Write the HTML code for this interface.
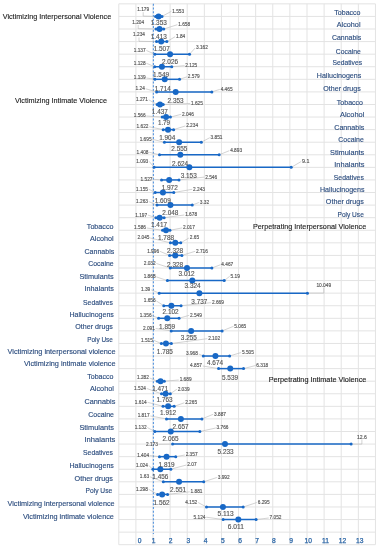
<!DOCTYPE html>
<html><head><meta charset="utf-8"><title>Forest plot</title>
<style>html,body{margin:0;padding:0;background:#fff}svg{display:block}text{font-family:"Liberation Sans",sans-serif}</style></head><body>
<svg width="380" height="550" viewBox="0 0 380 550">
<rect width="380" height="550" fill="#fff"/>
<g stroke="#e3e3e3" stroke-width="1" fill="none">
<line x1="118.79" y1="3.85" x2="375.44" y2="3.85"/>
<line x1="118.79" y1="16.43" x2="375.44" y2="16.43"/>
<line x1="118.79" y1="29.01" x2="375.44" y2="29.01"/>
<line x1="118.79" y1="41.58" x2="375.44" y2="41.58"/>
<line x1="118.79" y1="54.16" x2="375.44" y2="54.16"/>
<line x1="118.79" y1="66.74" x2="375.44" y2="66.74"/>
<line x1="118.79" y1="79.32" x2="375.44" y2="79.32"/>
<line x1="118.79" y1="91.90" x2="375.44" y2="91.90"/>
<line x1="118.79" y1="104.47" x2="375.44" y2="104.47"/>
<line x1="118.79" y1="117.05" x2="375.44" y2="117.05"/>
<line x1="118.79" y1="129.63" x2="375.44" y2="129.63"/>
<line x1="118.79" y1="142.21" x2="375.44" y2="142.21"/>
<line x1="118.79" y1="154.79" x2="375.44" y2="154.79"/>
<line x1="118.79" y1="167.36" x2="375.44" y2="167.36"/>
<line x1="118.79" y1="179.94" x2="375.44" y2="179.94"/>
<line x1="118.79" y1="192.52" x2="375.44" y2="192.52"/>
<line x1="118.79" y1="205.10" x2="375.44" y2="205.10"/>
<line x1="118.79" y1="217.68" x2="375.44" y2="217.68"/>
<line x1="118.79" y1="230.25" x2="375.44" y2="230.25"/>
<line x1="118.79" y1="242.83" x2="375.44" y2="242.83"/>
<line x1="118.79" y1="255.41" x2="375.44" y2="255.41"/>
<line x1="118.79" y1="267.99" x2="375.44" y2="267.99"/>
<line x1="118.79" y1="280.57" x2="375.44" y2="280.57"/>
<line x1="118.79" y1="293.14" x2="375.44" y2="293.14"/>
<line x1="118.79" y1="305.72" x2="375.44" y2="305.72"/>
<line x1="118.79" y1="318.30" x2="375.44" y2="318.30"/>
<line x1="118.79" y1="330.88" x2="375.44" y2="330.88"/>
<line x1="118.79" y1="343.46" x2="375.44" y2="343.46"/>
<line x1="118.79" y1="356.03" x2="375.44" y2="356.03"/>
<line x1="118.79" y1="368.61" x2="375.44" y2="368.61"/>
<line x1="118.79" y1="381.19" x2="375.44" y2="381.19"/>
<line x1="118.79" y1="393.77" x2="375.44" y2="393.77"/>
<line x1="118.79" y1="406.35" x2="375.44" y2="406.35"/>
<line x1="118.79" y1="418.92" x2="375.44" y2="418.92"/>
<line x1="118.79" y1="431.50" x2="375.44" y2="431.50"/>
<line x1="118.79" y1="444.08" x2="375.44" y2="444.08"/>
<line x1="118.79" y1="456.66" x2="375.44" y2="456.66"/>
<line x1="118.79" y1="469.24" x2="375.44" y2="469.24"/>
<line x1="118.79" y1="481.81" x2="375.44" y2="481.81"/>
<line x1="118.79" y1="494.39" x2="375.44" y2="494.39"/>
<line x1="118.79" y1="506.97" x2="375.44" y2="506.97"/>
<line x1="118.79" y1="519.55" x2="375.44" y2="519.55"/>
<line x1="118.79" y1="532.13" x2="375.44" y2="532.13"/>
<line x1="118.79" y1="544.70" x2="375.44" y2="544.70"/>
<line x1="118.79" y1="3.85" x2="118.79" y2="544.70"/>
<line x1="135.90" y1="3.85" x2="135.90" y2="544.70"/>
<line x1="153.01" y1="3.85" x2="153.01" y2="544.70"/>
<line x1="170.12" y1="3.85" x2="170.12" y2="544.70"/>
<line x1="187.23" y1="3.85" x2="187.23" y2="544.70"/>
<line x1="204.34" y1="3.85" x2="204.34" y2="544.70"/>
<line x1="221.45" y1="3.85" x2="221.45" y2="544.70"/>
<line x1="238.56" y1="3.85" x2="238.56" y2="544.70"/>
<line x1="255.67" y1="3.85" x2="255.67" y2="544.70"/>
<line x1="272.78" y1="3.85" x2="272.78" y2="544.70"/>
<line x1="289.89" y1="3.85" x2="289.89" y2="544.70"/>
<line x1="307.00" y1="3.85" x2="307.00" y2="544.70"/>
<line x1="324.11" y1="3.85" x2="324.11" y2="544.70"/>
<line x1="341.22" y1="3.85" x2="341.22" y2="544.70"/>
<line x1="358.33" y1="3.85" x2="358.33" y2="544.70"/>
<line x1="375.44" y1="3.85" x2="375.44" y2="544.70"/>
</g>
<line x1="153.4" y1="3.85" x2="153.4" y2="534" stroke="#5596e0" stroke-width="1.1" stroke-dasharray="2 1.7"/>
<g stroke="#b5b5b5" stroke-width="0.6" fill="none">
<polyline points="143.2,12.2 143.2,16.1 155.6,16.4"/>
<line x1="171.4" y1="11.3" x2="162.0" y2="16.4"/>
<polyline points="138.2,25.0 138.2,28.7 156.0,29.0"/>
<line x1="177.4" y1="24.7" x2="163.8" y2="29.0"/>
<polyline points="139.0,37.5 139.0,41.3 156.5,41.6"/>
<line x1="175.1" y1="36.7" x2="166.9" y2="41.6"/>
<line x1="146.4" y1="50.5" x2="154.9" y2="54.2"/>
<line x1="195.2" y1="48.0" x2="189.5" y2="54.2"/>
<line x1="146.4" y1="63.3" x2="154.7" y2="66.7"/>
<line x1="184.6" y1="65.7" x2="171.8" y2="66.7"/>
<line x1="146.4" y1="78.0" x2="154.9" y2="79.3"/>
<line x1="187.1" y1="76.8" x2="179.6" y2="79.3"/>
<line x1="145.7" y1="88.8" x2="156.6" y2="91.9"/>
<line x1="219.8" y1="89.4" x2="211.8" y2="91.9"/>
<line x1="148.7" y1="99.8" x2="157.2" y2="104.5"/>
<line x1="190.2" y1="103.5" x2="163.2" y2="104.5"/>
<line x1="146.4" y1="116.0" x2="162.2" y2="117.1"/>
<line x1="181.2" y1="114.3" x2="170.4" y2="117.1"/>
<line x1="149.2" y1="126.8" x2="163.2" y2="129.6"/>
<line x1="185.3" y1="126.0" x2="173.6" y2="129.6"/>
<line x1="152.3" y1="139.3" x2="164.4" y2="142.2"/>
<line x1="209.8" y1="137.7" x2="201.3" y2="142.2"/>
<line x1="149.2" y1="152.3" x2="159.5" y2="154.8"/>
<line x1="229.3" y1="150.7" x2="219.2" y2="154.8"/>
<line x1="149.1" y1="161.3" x2="154.1" y2="167.4"/>
<line x1="301.2" y1="161.5" x2="291.2" y2="167.4"/>
<line x1="153.2" y1="179.3" x2="161.5" y2="179.9"/>
<line x1="204.4" y1="177.1" x2="179.0" y2="179.9"/>
<line x1="148.8" y1="189.3" x2="155.2" y2="192.5"/>
<line x1="192.2" y1="189.3" x2="173.8" y2="192.5"/>
<line x1="148.8" y1="201.6" x2="157.0" y2="205.1"/>
<line x1="198.9" y1="202.5" x2="192.2" y2="205.1"/>
<line x1="147.9" y1="215.1" x2="155.9" y2="217.7"/>
<line x1="184.3" y1="215.0" x2="164.1" y2="217.7"/>
<line x1="146.8" y1="228.0" x2="162.6" y2="230.3"/>
<line x1="182.2" y1="227.9" x2="169.9" y2="230.3"/>
<line x1="150.2" y1="238.0" x2="170.4" y2="242.8"/>
<line x1="188.9" y1="238.0" x2="180.8" y2="242.8"/>
<line x1="159.8" y1="251.3" x2="169.6" y2="255.4"/>
<line x1="195.2" y1="251.3" x2="181.9" y2="255.4"/>
<line x1="156.4" y1="263.5" x2="170.2" y2="268.0"/>
<line x1="220.6" y1="264.7" x2="211.9" y2="268.0"/>
<line x1="156.3" y1="276.9" x2="167.4" y2="280.6"/>
<line x1="229.7" y1="276.3" x2="224.3" y2="280.6"/>
<line x1="151.1" y1="289.8" x2="159.2" y2="293.1"/>
<polyline points="323.8,287.8 323.8,293.1 307.4,293.1"/>
<line x1="156.4" y1="301.0" x2="163.8" y2="305.7"/>
<line x1="211.2" y1="302.7" x2="181.1" y2="305.7"/>
<line x1="152.3" y1="315.5" x2="158.6" y2="318.3"/>
<line x1="189.2" y1="315.3" x2="179.0" y2="318.3"/>
<line x1="155.7" y1="328.5" x2="171.2" y2="330.9"/>
<line x1="233.6" y1="326.3" x2="222.1" y2="330.9"/>
<line x1="153.7" y1="340.3" x2="161.3" y2="343.5"/>
<line x1="207.3" y1="338.7" x2="171.4" y2="343.5"/>
<line x1="198.7" y1="354.0" x2="203.3" y2="356.0"/>
<line x1="241.2" y1="352.5" x2="229.6" y2="356.0"/>
<line x1="202.8" y1="366.0" x2="218.6" y2="368.6"/>
<line x1="255.6" y1="365.5" x2="243.6" y2="368.6"/>
<line x1="149.7" y1="378.0" x2="157.3" y2="381.2"/>
<line x1="178.8" y1="380.0" x2="164.3" y2="381.2"/>
<line x1="146.8" y1="388.5" x2="161.5" y2="393.8"/>
<line x1="176.8" y1="389.3" x2="170.3" y2="393.8"/>
<line x1="147.6" y1="402.3" x2="163.0" y2="406.3"/>
<line x1="184.3" y1="402.8" x2="174.2" y2="406.3"/>
<line x1="150.3" y1="416.0" x2="166.5" y2="418.9"/>
<line x1="213.2" y1="414.3" x2="201.9" y2="418.9"/>
<line x1="147.3" y1="427.5" x2="154.8" y2="431.5"/>
<line x1="215.8" y1="428.0" x2="199.9" y2="431.5"/>
<line x1="158.7" y1="444.3" x2="172.6" y2="444.1"/>
<polyline points="361.9,439.4 361.9,444.1 351.1,444.1"/>
<line x1="149.8" y1="455.5" x2="159.4" y2="456.7"/>
<line x1="184.8" y1="455.0" x2="175.8" y2="456.7"/>
<line x1="148.7" y1="465.5" x2="152.9" y2="469.2"/>
<line x1="186.4" y1="465.0" x2="170.8" y2="469.2"/>
<line x1="149.9" y1="476.8" x2="163.3" y2="481.8"/>
<line x1="216.9" y1="477.5" x2="203.7" y2="481.8"/>
<line x1="148.7" y1="489.3" x2="157.6" y2="494.4"/>
<line x1="189.8" y1="491.8" x2="167.6" y2="494.4"/>
<line x1="198.1" y1="502.5" x2="206.5" y2="507.0"/>
<line x1="256.9" y1="502.5" x2="243.2" y2="507.0"/>
<line x1="206.2" y1="517.2" x2="223.1" y2="519.5"/>
<line x1="268.8" y1="518.0" x2="256.1" y2="519.5"/>
</g>
<g stroke="#1868c6" stroke-width="1.5" fill="#1868c6">
<line x1="155.58" y1="16.43" x2="161.99" y2="16.43"/>
<line x1="156.01" y1="29.01" x2="163.78" y2="29.01"/>
<line x1="156.53" y1="41.58" x2="166.90" y2="41.58"/>
<line x1="154.87" y1="54.16" x2="189.53" y2="54.16"/>
<line x1="154.71" y1="66.74" x2="171.78" y2="66.74"/>
<line x1="154.90" y1="79.32" x2="179.55" y2="79.32"/>
<line x1="156.63" y1="91.90" x2="211.84" y2="91.90"/>
<line x1="157.16" y1="104.47" x2="163.22" y2="104.47"/>
<line x1="162.21" y1="117.05" x2="170.43" y2="117.05"/>
<line x1="163.17" y1="129.63" x2="173.65" y2="129.63"/>
<line x1="164.42" y1="142.21" x2="201.33" y2="142.21"/>
<line x1="159.50" y1="154.79" x2="219.17" y2="154.79"/>
<line x1="154.11" y1="167.36" x2="291.19" y2="167.36"/>
<line x1="161.54" y1="179.94" x2="178.99" y2="179.94"/>
<line x1="155.17" y1="192.52" x2="173.80" y2="192.52"/>
<line x1="157.02" y1="205.10" x2="192.24" y2="205.10"/>
<line x1="155.89" y1="217.68" x2="164.13" y2="217.68"/>
<line x1="162.55" y1="230.25" x2="169.93" y2="230.25"/>
<line x1="170.41" y1="242.83" x2="180.77" y2="242.83"/>
<line x1="169.57" y1="255.41" x2="181.90" y2="255.41"/>
<line x1="170.19" y1="267.99" x2="211.88" y2="267.99"/>
<line x1="167.38" y1="280.57" x2="224.25" y2="280.57"/>
<line x1="159.20" y1="293.14" x2="307.44" y2="293.14"/>
<line x1="163.75" y1="305.72" x2="181.09" y2="305.72"/>
<line x1="158.61" y1="318.30" x2="179.04" y2="318.30"/>
<line x1="171.20" y1="330.88" x2="222.11" y2="330.88"/>
<line x1="161.34" y1="343.46" x2="171.39" y2="343.46"/>
<line x1="203.33" y1="356.03" x2="229.65" y2="356.03"/>
<line x1="218.55" y1="368.61" x2="243.56" y2="368.61"/>
<line x1="157.35" y1="381.19" x2="164.32" y2="381.19"/>
<line x1="161.49" y1="393.77" x2="170.31" y2="393.77"/>
<line x1="163.03" y1="406.35" x2="174.18" y2="406.35"/>
<line x1="166.51" y1="418.92" x2="201.95" y2="418.92"/>
<line x1="154.78" y1="431.50" x2="199.87" y2="431.50"/>
<line x1="172.60" y1="444.08" x2="351.11" y2="444.08"/>
<line x1="159.44" y1="456.66" x2="175.75" y2="456.66"/>
<line x1="152.93" y1="469.24" x2="170.84" y2="469.24"/>
<line x1="163.31" y1="481.81" x2="203.74" y2="481.81"/>
<line x1="157.62" y1="494.39" x2="167.60" y2="494.39"/>
<line x1="206.48" y1="506.97" x2="243.17" y2="506.97"/>
<line x1="223.12" y1="519.55" x2="256.13" y2="519.55"/>
</g>
<g fill="#1868c6">
<circle cx="155.58" cy="16.43" r="1.5"/><circle cx="161.99" cy="16.43" r="1.5"/><circle cx="158.56" cy="16.43" r="3"/>
<circle cx="156.01" cy="29.01" r="1.5"/><circle cx="163.78" cy="29.01" r="1.5"/><circle cx="159.59" cy="29.01" r="3"/>
<circle cx="156.53" cy="41.58" r="1.5"/><circle cx="166.90" cy="41.58" r="1.5"/><circle cx="161.20" cy="41.58" r="3"/>
<circle cx="154.87" cy="54.16" r="1.5"/><circle cx="189.53" cy="54.16" r="1.5"/><circle cx="170.09" cy="54.16" r="3"/>
<circle cx="154.71" cy="66.74" r="1.5"/><circle cx="171.78" cy="66.74" r="1.5"/><circle cx="161.92" cy="66.74" r="3"/>
<circle cx="154.90" cy="79.32" r="1.5"/><circle cx="179.55" cy="79.32" r="1.5"/><circle cx="164.74" cy="79.32" r="3"/>
<circle cx="156.63" cy="91.90" r="1.5"/><circle cx="211.84" cy="91.90" r="1.5"/><circle cx="175.68" cy="91.90" r="3"/>
<circle cx="157.16" cy="104.47" r="1.5"/><circle cx="163.22" cy="104.47" r="1.5"/><circle cx="160.00" cy="104.47" r="3"/>
<circle cx="162.21" cy="117.05" r="1.5"/><circle cx="170.43" cy="117.05" r="1.5"/><circle cx="166.04" cy="117.05" r="3"/>
<circle cx="163.17" cy="129.63" r="1.5"/><circle cx="173.65" cy="129.63" r="1.5"/><circle cx="168.00" cy="129.63" r="3"/>
<circle cx="164.42" cy="142.21" r="1.5"/><circle cx="201.33" cy="142.21" r="1.5"/><circle cx="179.14" cy="142.21" r="3"/>
<circle cx="159.50" cy="154.79" r="1.5"/><circle cx="219.17" cy="154.79" r="1.5"/><circle cx="180.32" cy="154.79" r="3"/>
<circle cx="154.11" cy="167.36" r="1.5"/><circle cx="291.19" cy="167.36" r="1.5"/><circle cx="189.38" cy="167.36" r="3"/>
<circle cx="161.54" cy="179.94" r="1.5"/><circle cx="178.99" cy="179.94" r="1.5"/><circle cx="169.16" cy="179.94" r="3"/>
<circle cx="155.17" cy="192.52" r="1.5"/><circle cx="173.80" cy="192.52" r="1.5"/><circle cx="162.95" cy="192.52" r="3"/>
<circle cx="157.02" cy="205.10" r="1.5"/><circle cx="192.24" cy="205.10" r="1.5"/><circle cx="170.46" cy="205.10" r="3"/>
<circle cx="155.89" cy="217.68" r="1.5"/><circle cx="164.13" cy="217.68" r="1.5"/><circle cx="159.66" cy="217.68" r="3"/>
<circle cx="162.55" cy="230.25" r="1.5"/><circle cx="169.93" cy="230.25" r="1.5"/><circle cx="166.01" cy="230.25" r="3"/>
<circle cx="170.41" cy="242.83" r="1.5"/><circle cx="180.77" cy="242.83" r="1.5"/><circle cx="175.26" cy="242.83" r="3"/>
<circle cx="169.57" cy="255.41" r="1.5"/><circle cx="181.90" cy="255.41" r="1.5"/><circle cx="175.26" cy="255.41" r="3"/>
<circle cx="170.19" cy="267.99" r="1.5"/><circle cx="211.88" cy="267.99" r="1.5"/><circle cx="186.97" cy="267.99" r="3"/>
<circle cx="167.38" cy="280.57" r="1.5"/><circle cx="224.25" cy="280.57" r="1.5"/><circle cx="192.31" cy="280.57" r="3"/>
<circle cx="159.20" cy="293.14" r="1.5"/><circle cx="307.44" cy="293.14" r="1.5"/><circle cx="199.38" cy="293.14" r="3"/>
<circle cx="163.75" cy="305.72" r="1.5"/><circle cx="181.09" cy="305.72" r="1.5"/><circle cx="171.39" cy="305.72" r="3"/>
<circle cx="158.61" cy="318.30" r="1.5"/><circle cx="179.04" cy="318.30" r="1.5"/><circle cx="167.23" cy="318.30" r="3"/>
<circle cx="171.20" cy="330.88" r="1.5"/><circle cx="222.11" cy="330.88" r="1.5"/><circle cx="191.13" cy="330.88" r="3"/>
<circle cx="161.34" cy="343.46" r="1.5"/><circle cx="171.39" cy="343.46" r="1.5"/><circle cx="165.96" cy="343.46" r="3"/>
<circle cx="203.33" cy="356.03" r="1.5"/><circle cx="229.65" cy="356.03" r="1.5"/><circle cx="215.42" cy="356.03" r="3"/>
<circle cx="218.55" cy="368.61" r="1.5"/><circle cx="243.56" cy="368.61" r="1.5"/><circle cx="230.23" cy="368.61" r="3"/>
<circle cx="157.35" cy="381.19" r="1.5"/><circle cx="164.32" cy="381.19" r="1.5"/><circle cx="160.58" cy="381.19" r="3"/>
<circle cx="161.49" cy="393.77" r="1.5"/><circle cx="170.31" cy="393.77" r="1.5"/><circle cx="165.58" cy="393.77" r="3"/>
<circle cx="163.03" cy="406.35" r="1.5"/><circle cx="174.18" cy="406.35" r="1.5"/><circle cx="168.13" cy="406.35" r="3"/>
<circle cx="166.51" cy="418.92" r="1.5"/><circle cx="201.95" cy="418.92" r="1.5"/><circle cx="180.89" cy="418.92" r="3"/>
<circle cx="154.78" cy="431.50" r="1.5"/><circle cx="199.87" cy="431.50" r="1.5"/><circle cx="170.75" cy="431.50" r="3"/>
<circle cx="172.60" cy="444.08" r="1.5"/><circle cx="351.11" cy="444.08" r="1.5"/><circle cx="224.99" cy="444.08" r="3"/>
<circle cx="159.44" cy="456.66" r="1.5"/><circle cx="175.75" cy="456.66" r="1.5"/><circle cx="166.54" cy="456.66" r="3"/>
<circle cx="152.93" cy="469.24" r="1.5"/><circle cx="170.84" cy="469.24" r="1.5"/><circle cx="160.33" cy="469.24" r="3"/>
<circle cx="163.31" cy="481.81" r="1.5"/><circle cx="203.74" cy="481.81" r="1.5"/><circle cx="179.07" cy="481.81" r="3"/>
<circle cx="157.62" cy="494.39" r="1.5"/><circle cx="167.60" cy="494.39" r="1.5"/><circle cx="162.14" cy="494.39" r="3"/>
<circle cx="206.48" cy="506.97" r="1.5"/><circle cx="243.17" cy="506.97" r="1.5"/><circle cx="222.93" cy="506.97" r="3"/>
<circle cx="223.12" cy="519.55" r="1.5"/><circle cx="256.13" cy="519.55" r="1.5"/><circle cx="238.31" cy="519.55" r="3"/>
</g>
<g font-size="5.5" fill="#555555" stroke="#555555" stroke-width="0.15">
<text x="137.25" y="11.17" textLength="11.90" lengthAdjust="spacingAndGlyphs">1.179</text>
<text x="172.25" y="12.77" textLength="11.90" lengthAdjust="spacingAndGlyphs">1.553</text>
<text x="132.25" y="23.97" textLength="11.90" lengthAdjust="spacingAndGlyphs">1.204</text>
<text x="178.25" y="26.17" textLength="11.90" lengthAdjust="spacingAndGlyphs">1.658</text>
<text x="133.05" y="36.47" textLength="11.90" lengthAdjust="spacingAndGlyphs">1.234</text>
<text x="175.95" y="38.17" textLength="9.30" lengthAdjust="spacingAndGlyphs">1.84</text>
<text x="133.75" y="51.97" textLength="11.90" lengthAdjust="spacingAndGlyphs">1.137</text>
<text x="195.95" y="49.47" textLength="11.90" lengthAdjust="spacingAndGlyphs">3.162</text>
<text x="133.75" y="64.77" textLength="11.90" lengthAdjust="spacingAndGlyphs">1.128</text>
<text x="185.35" y="67.17" textLength="11.90" lengthAdjust="spacingAndGlyphs">2.125</text>
<text x="133.75" y="79.47" textLength="11.90" lengthAdjust="spacingAndGlyphs">1.139</text>
<text x="187.85" y="78.27" textLength="11.90" lengthAdjust="spacingAndGlyphs">2.579</text>
<text x="135.55" y="90.27" textLength="9.30" lengthAdjust="spacingAndGlyphs">1.24</text>
<text x="220.65" y="90.87" textLength="11.90" lengthAdjust="spacingAndGlyphs">4.465</text>
<text x="135.95" y="101.27" textLength="11.90" lengthAdjust="spacingAndGlyphs">1.271</text>
<text x="190.95" y="104.97" textLength="11.90" lengthAdjust="spacingAndGlyphs">1.625</text>
<text x="133.75" y="117.47" textLength="11.90" lengthAdjust="spacingAndGlyphs">1.566</text>
<text x="181.95" y="115.77" textLength="11.90" lengthAdjust="spacingAndGlyphs">2.046</text>
<text x="136.55" y="128.27" textLength="11.90" lengthAdjust="spacingAndGlyphs">1.622</text>
<text x="186.15" y="127.47" textLength="11.90" lengthAdjust="spacingAndGlyphs">2.234</text>
<text x="139.65" y="140.77" textLength="11.90" lengthAdjust="spacingAndGlyphs">1.695</text>
<text x="210.55" y="139.17" textLength="11.90" lengthAdjust="spacingAndGlyphs">3.851</text>
<text x="136.55" y="153.77" textLength="11.90" lengthAdjust="spacingAndGlyphs">1.408</text>
<text x="230.15" y="152.17" textLength="11.90" lengthAdjust="spacingAndGlyphs">4.893</text>
<text x="136.35" y="162.77" textLength="11.90" lengthAdjust="spacingAndGlyphs">1.093</text>
<text x="302.00" y="162.97" textLength="7.40" lengthAdjust="spacingAndGlyphs">9.1</text>
<text x="140.55" y="180.77" textLength="11.90" lengthAdjust="spacingAndGlyphs">1.527</text>
<text x="205.25" y="178.57" textLength="11.90" lengthAdjust="spacingAndGlyphs">2.546</text>
<text x="136.05" y="190.77" textLength="11.90" lengthAdjust="spacingAndGlyphs">1.155</text>
<text x="193.05" y="190.77" textLength="11.90" lengthAdjust="spacingAndGlyphs">2.243</text>
<text x="136.05" y="203.07" textLength="11.90" lengthAdjust="spacingAndGlyphs">1.263</text>
<text x="199.75" y="203.97" textLength="9.30" lengthAdjust="spacingAndGlyphs">3.32</text>
<text x="135.25" y="216.57" textLength="11.90" lengthAdjust="spacingAndGlyphs">1.197</text>
<text x="185.15" y="216.47" textLength="11.90" lengthAdjust="spacingAndGlyphs">1.678</text>
<text x="134.05" y="229.47" textLength="11.90" lengthAdjust="spacingAndGlyphs">1.586</text>
<text x="182.95" y="229.37" textLength="11.90" lengthAdjust="spacingAndGlyphs">2.017</text>
<text x="137.55" y="239.47" textLength="11.90" lengthAdjust="spacingAndGlyphs">2.045</text>
<text x="189.75" y="239.47" textLength="9.30" lengthAdjust="spacingAndGlyphs">2.65</text>
<text x="147.15" y="252.77" textLength="11.90" lengthAdjust="spacingAndGlyphs">1.996</text>
<text x="195.95" y="252.77" textLength="11.90" lengthAdjust="spacingAndGlyphs">2.716</text>
<text x="143.75" y="264.97" textLength="11.90" lengthAdjust="spacingAndGlyphs">2.032</text>
<text x="221.35" y="266.17" textLength="11.90" lengthAdjust="spacingAndGlyphs">4.467</text>
<text x="143.65" y="278.37" textLength="11.90" lengthAdjust="spacingAndGlyphs">1.868</text>
<text x="230.55" y="277.77" textLength="9.30" lengthAdjust="spacingAndGlyphs">5.19</text>
<text x="140.95" y="291.27" textLength="9.30" lengthAdjust="spacingAndGlyphs">1.39</text>
<text x="316.40" y="287.17" textLength="14.80" lengthAdjust="spacingAndGlyphs">10.049</text>
<text x="143.75" y="302.47" textLength="11.90" lengthAdjust="spacingAndGlyphs">1.656</text>
<text x="211.95" y="304.17" textLength="11.90" lengthAdjust="spacingAndGlyphs">2.669</text>
<text x="139.65" y="316.97" textLength="11.90" lengthAdjust="spacingAndGlyphs">1.356</text>
<text x="189.95" y="316.77" textLength="11.90" lengthAdjust="spacingAndGlyphs">2.549</text>
<text x="142.95" y="329.97" textLength="11.90" lengthAdjust="spacingAndGlyphs">2.091</text>
<text x="234.35" y="327.77" textLength="11.90" lengthAdjust="spacingAndGlyphs">5.065</text>
<text x="140.95" y="341.77" textLength="11.90" lengthAdjust="spacingAndGlyphs">1.515</text>
<text x="208.15" y="340.17" textLength="11.90" lengthAdjust="spacingAndGlyphs">2.102</text>
<text x="185.95" y="355.47" textLength="11.90" lengthAdjust="spacingAndGlyphs">3.968</text>
<text x="241.95" y="353.97" textLength="11.90" lengthAdjust="spacingAndGlyphs">5.505</text>
<text x="190.05" y="367.47" textLength="11.90" lengthAdjust="spacingAndGlyphs">4.857</text>
<text x="256.35" y="366.97" textLength="11.90" lengthAdjust="spacingAndGlyphs">6.318</text>
<text x="136.95" y="379.47" textLength="11.90" lengthAdjust="spacingAndGlyphs">1.282</text>
<text x="179.65" y="381.47" textLength="11.90" lengthAdjust="spacingAndGlyphs">1.689</text>
<text x="134.05" y="389.97" textLength="11.90" lengthAdjust="spacingAndGlyphs">1.524</text>
<text x="177.65" y="390.77" textLength="11.90" lengthAdjust="spacingAndGlyphs">2.039</text>
<text x="134.85" y="403.77" textLength="11.90" lengthAdjust="spacingAndGlyphs">1.614</text>
<text x="185.15" y="404.27" textLength="11.90" lengthAdjust="spacingAndGlyphs">2.265</text>
<text x="137.65" y="417.47" textLength="11.90" lengthAdjust="spacingAndGlyphs">1.817</text>
<text x="214.05" y="415.77" textLength="11.90" lengthAdjust="spacingAndGlyphs">3.887</text>
<text x="134.65" y="428.97" textLength="11.90" lengthAdjust="spacingAndGlyphs">1.132</text>
<text x="216.55" y="429.47" textLength="11.90" lengthAdjust="spacingAndGlyphs">3.766</text>
<text x="145.95" y="445.77" textLength="11.90" lengthAdjust="spacingAndGlyphs">2.173</text>
<text x="356.95" y="438.77" textLength="9.90" lengthAdjust="spacingAndGlyphs">12.6</text>
<text x="137.15" y="456.97" textLength="11.90" lengthAdjust="spacingAndGlyphs">1.404</text>
<text x="185.65" y="456.47" textLength="11.90" lengthAdjust="spacingAndGlyphs">2.357</text>
<text x="135.95" y="466.97" textLength="11.90" lengthAdjust="spacingAndGlyphs">1.024</text>
<text x="187.25" y="466.47" textLength="9.30" lengthAdjust="spacingAndGlyphs">2.07</text>
<text x="139.75" y="478.27" textLength="9.30" lengthAdjust="spacingAndGlyphs">1.63</text>
<text x="217.75" y="478.97" textLength="11.90" lengthAdjust="spacingAndGlyphs">3.992</text>
<text x="135.95" y="490.77" textLength="11.90" lengthAdjust="spacingAndGlyphs">1.298</text>
<text x="190.55" y="493.27" textLength="11.90" lengthAdjust="spacingAndGlyphs">1.881</text>
<text x="185.35" y="503.97" textLength="11.90" lengthAdjust="spacingAndGlyphs">4.152</text>
<text x="257.75" y="503.97" textLength="11.90" lengthAdjust="spacingAndGlyphs">6.295</text>
<text x="193.55" y="518.67" textLength="11.90" lengthAdjust="spacingAndGlyphs">5.124</text>
<text x="269.55" y="519.47" textLength="11.90" lengthAdjust="spacingAndGlyphs">7.052</text>
</g>
<g font-size="7.4" fill="#555555" stroke="#555555" stroke-width="0.15">
<text x="150.75" y="24.65" textLength="16.10" lengthAdjust="spacingAndGlyphs">1.353</text>
<text x="150.75" y="38.65" textLength="16.10" lengthAdjust="spacingAndGlyphs">1.413</text>
<text x="153.65" y="51.45" textLength="16.10" lengthAdjust="spacingAndGlyphs">1.507</text>
<text x="161.95" y="64.15" textLength="16.10" lengthAdjust="spacingAndGlyphs">2.026</text>
<text x="152.95" y="77.15" textLength="16.10" lengthAdjust="spacingAndGlyphs">1.549</text>
<text x="154.75" y="90.65" textLength="16.10" lengthAdjust="spacingAndGlyphs">1.714</text>
<text x="167.55" y="103.45" textLength="16.10" lengthAdjust="spacingAndGlyphs">2.353</text>
<text x="151.85" y="114.45" textLength="16.10" lengthAdjust="spacingAndGlyphs">1.437</text>
<text x="157.90" y="124.95" textLength="12.20" lengthAdjust="spacingAndGlyphs">1.79</text>
<text x="159.15" y="139.65" textLength="16.10" lengthAdjust="spacingAndGlyphs">1.904</text>
<text x="171.35" y="150.65" textLength="16.10" lengthAdjust="spacingAndGlyphs">2.555</text>
<text x="172.05" y="165.65" textLength="16.10" lengthAdjust="spacingAndGlyphs">2.624</text>
<text x="180.65" y="177.65" textLength="16.10" lengthAdjust="spacingAndGlyphs">3.153</text>
<text x="161.65" y="189.85" textLength="16.10" lengthAdjust="spacingAndGlyphs">1.972</text>
<text x="154.65" y="202.65" textLength="16.10" lengthAdjust="spacingAndGlyphs">1.609</text>
<text x="162.35" y="215.15" textLength="16.10" lengthAdjust="spacingAndGlyphs">2.048</text>
<text x="150.95" y="227.15" textLength="16.10" lengthAdjust="spacingAndGlyphs">1.417</text>
<text x="157.95" y="240.15" textLength="16.10" lengthAdjust="spacingAndGlyphs">1.788</text>
<text x="167.05" y="252.65" textLength="16.10" lengthAdjust="spacingAndGlyphs">2.328</text>
<text x="167.05" y="267.35" textLength="16.10" lengthAdjust="spacingAndGlyphs">2.328</text>
<text x="178.55" y="276.35" textLength="16.10" lengthAdjust="spacingAndGlyphs">3.012</text>
<text x="184.55" y="288.25" textLength="16.10" lengthAdjust="spacingAndGlyphs">3.324</text>
<text x="191.35" y="303.95" textLength="16.10" lengthAdjust="spacingAndGlyphs">3.737</text>
<text x="162.55" y="314.45" textLength="16.10" lengthAdjust="spacingAndGlyphs">2.102</text>
<text x="159.05" y="328.95" textLength="16.10" lengthAdjust="spacingAndGlyphs">1.859</text>
<text x="180.85" y="340.15" textLength="16.10" lengthAdjust="spacingAndGlyphs">3.255</text>
<text x="156.85" y="354.25" textLength="16.10" lengthAdjust="spacingAndGlyphs">1.785</text>
<text x="206.95" y="365.15" textLength="16.10" lengthAdjust="spacingAndGlyphs">4.674</text>
<text x="221.95" y="379.65" textLength="16.10" lengthAdjust="spacingAndGlyphs">5.539</text>
<text x="152.15" y="390.65" textLength="16.10" lengthAdjust="spacingAndGlyphs">1.471</text>
<text x="156.55" y="401.65" textLength="16.10" lengthAdjust="spacingAndGlyphs">1.763</text>
<text x="160.05" y="415.15" textLength="16.10" lengthAdjust="spacingAndGlyphs">1.912</text>
<text x="172.55" y="428.95" textLength="16.10" lengthAdjust="spacingAndGlyphs">2.657</text>
<text x="162.55" y="440.95" textLength="16.10" lengthAdjust="spacingAndGlyphs">2.065</text>
<text x="217.55" y="453.95" textLength="16.10" lengthAdjust="spacingAndGlyphs">5.233</text>
<text x="158.55" y="467.15" textLength="16.10" lengthAdjust="spacingAndGlyphs">1.819</text>
<text x="152.35" y="478.95" textLength="16.10" lengthAdjust="spacingAndGlyphs">1.456</text>
<text x="170.05" y="492.15" textLength="16.10" lengthAdjust="spacingAndGlyphs">2.551</text>
<text x="153.55" y="504.65" textLength="16.10" lengthAdjust="spacingAndGlyphs">1.562</text>
<text x="217.55" y="516.45" textLength="16.10" lengthAdjust="spacingAndGlyphs">5.113</text>
<text x="227.85" y="528.95" textLength="16.10" lengthAdjust="spacingAndGlyphs">6.011</text>
</g>
<g font-size="7.7" fill="#2b4c7e" stroke="#2b4c7e" stroke-width="0.14">
<text x="334.30" y="14.76" textLength="26.20" lengthAdjust="spacingAndGlyphs">Tobacco</text>
<text x="336.80" y="27.26" textLength="23.70" lengthAdjust="spacingAndGlyphs">Alcohol</text>
<text x="332.00" y="40.26" textLength="29.30" lengthAdjust="spacingAndGlyphs">Cannabis</text>
<text x="335.80" y="54.06" textLength="25.00" lengthAdjust="spacingAndGlyphs">Cocaine</text>
<text x="332.50" y="65.26" textLength="29.50" lengthAdjust="spacingAndGlyphs">Sedatives</text>
<text x="316.80" y="77.76" textLength="44.50" lengthAdjust="spacingAndGlyphs">Hallucinogens</text>
<text x="323.30" y="91.06" textLength="37.50" lengthAdjust="spacingAndGlyphs">Other drugs</text>
<text x="336.80" y="104.76" textLength="26.20" lengthAdjust="spacingAndGlyphs">Tobacco</text>
<text x="340.00" y="117.06" textLength="24.30" lengthAdjust="spacingAndGlyphs">Alcohol</text>
<text x="334.30" y="130.06" textLength="30.00" lengthAdjust="spacingAndGlyphs">Cannabis</text>
<text x="338.30" y="142.26" textLength="25.50" lengthAdjust="spacingAndGlyphs">Cocaine</text>
<text x="330.00" y="154.76" textLength="34.30" lengthAdjust="spacingAndGlyphs">Stimulants</text>
<text x="334.30" y="166.56" textLength="30.20" lengthAdjust="spacingAndGlyphs">Inhalants</text>
<text x="333.80" y="179.76" textLength="30.00" lengthAdjust="spacingAndGlyphs">Sedatives</text>
<text x="320.00" y="192.06" textLength="44.50" lengthAdjust="spacingAndGlyphs">Hallucinogens</text>
<text x="325.80" y="204.06" textLength="38.00" lengthAdjust="spacingAndGlyphs">Other drugs</text>
<text x="337.50" y="217.06" textLength="26.30" lengthAdjust="spacingAndGlyphs">Poly Use</text>
<text x="86.80" y="228.56" textLength="26.70" lengthAdjust="spacingAndGlyphs">Tobacco</text>
<text x="90.00" y="240.76" textLength="23.60" lengthAdjust="spacingAndGlyphs">Alcohol</text>
<text x="84.50" y="253.66" textLength="29.80" lengthAdjust="spacingAndGlyphs">Cannabis</text>
<text x="88.30" y="265.96" textLength="25.30" lengthAdjust="spacingAndGlyphs">Cocaine</text>
<text x="79.40" y="278.66" textLength="34.20" lengthAdjust="spacingAndGlyphs">Stimulants</text>
<text x="84.50" y="290.96" textLength="29.50" lengthAdjust="spacingAndGlyphs">Inhalants</text>
<text x="83.10" y="304.76" textLength="29.80" lengthAdjust="spacingAndGlyphs">Sedatives</text>
<text x="69.50" y="316.76" textLength="44.40" lengthAdjust="spacingAndGlyphs">Hallucinogens</text>
<text x="75.30" y="328.66" textLength="37.60" lengthAdjust="spacingAndGlyphs">Other drugs</text>
<text x="87.20" y="341.66" textLength="25.70" lengthAdjust="spacingAndGlyphs">Poly Use</text>
<text x="7.50" y="353.66" textLength="108.10" lengthAdjust="spacingAndGlyphs">Victimizing interpersonal violence</text>
<text x="24.00" y="366.36" textLength="91.60" lengthAdjust="spacingAndGlyphs">Victimizing intimate violence</text>
<text x="87.20" y="379.26" textLength="26.30" lengthAdjust="spacingAndGlyphs">Tobacco</text>
<text x="90.00" y="390.86" textLength="23.90" lengthAdjust="spacingAndGlyphs">Alcohol</text>
<text x="84.50" y="404.26" textLength="30.80" lengthAdjust="spacingAndGlyphs">Cannabis</text>
<text x="88.30" y="417.26" textLength="25.60" lengthAdjust="spacingAndGlyphs">Cocaine</text>
<text x="79.40" y="429.86" textLength="34.50" lengthAdjust="spacingAndGlyphs">Stimulants</text>
<text x="84.50" y="442.16" textLength="30.80" lengthAdjust="spacingAndGlyphs">Inhalants</text>
<text x="83.10" y="454.76" textLength="29.80" lengthAdjust="spacingAndGlyphs">Sedatives</text>
<text x="69.50" y="467.56" textLength="44.40" lengthAdjust="spacingAndGlyphs">Hallucinogens</text>
<text x="74.60" y="480.96" textLength="38.30" lengthAdjust="spacingAndGlyphs">Other drugs</text>
<text x="85.50" y="492.96" textLength="26.70" lengthAdjust="spacingAndGlyphs">Poly Use</text>
<text x="7.50" y="505.96" textLength="107.10" lengthAdjust="spacingAndGlyphs">Victimizing interpersonal violence</text>
<text x="22.90" y="518.56" textLength="91.00" lengthAdjust="spacingAndGlyphs">Victimizing intimate violence</text>
</g>
<g font-size="7.6" fill="#1a1a1a" stroke="#1a1a1a" stroke-width="0.12">
<text x="2.70" y="18.72" textLength="108.50" lengthAdjust="spacingAndGlyphs">Victimizing Interpersonal Violence</text>
<text x="15.00" y="102.52" textLength="92.00" lengthAdjust="spacingAndGlyphs">Victimizing Intimate Violence</text>
<text x="252.90" y="229.22" textLength="113.30" lengthAdjust="spacingAndGlyphs">Perpetrating Interpersonal Violence</text>
<text x="268.70" y="381.72" textLength="97.70" lengthAdjust="spacingAndGlyphs">Perpetrating Intimate Violence</text>
</g>
<g font-size="6.7" fill="#2c66a6" stroke="#2c66a6" stroke-width="0.25" text-anchor="middle">
<text x="139.7" y="543.40">0</text>
<text x="153.5" y="543.40">1</text>
<text x="170.7" y="543.40">2</text>
<text x="188.3" y="543.40">3</text>
<text x="205.7" y="543.40">4</text>
<text x="222.8" y="543.40">5</text>
<text x="240.0" y="543.40">6</text>
<text x="257.0" y="543.40">7</text>
<text x="273.8" y="543.40">8</text>
<text x="291.0" y="543.40">9</text>
<text x="308.3" y="543.40">10</text>
<text x="325.5" y="543.40">11</text>
<text x="342.5" y="543.40">12</text>
<text x="359.8" y="543.40">13</text>
</g>
</svg></body></html>
